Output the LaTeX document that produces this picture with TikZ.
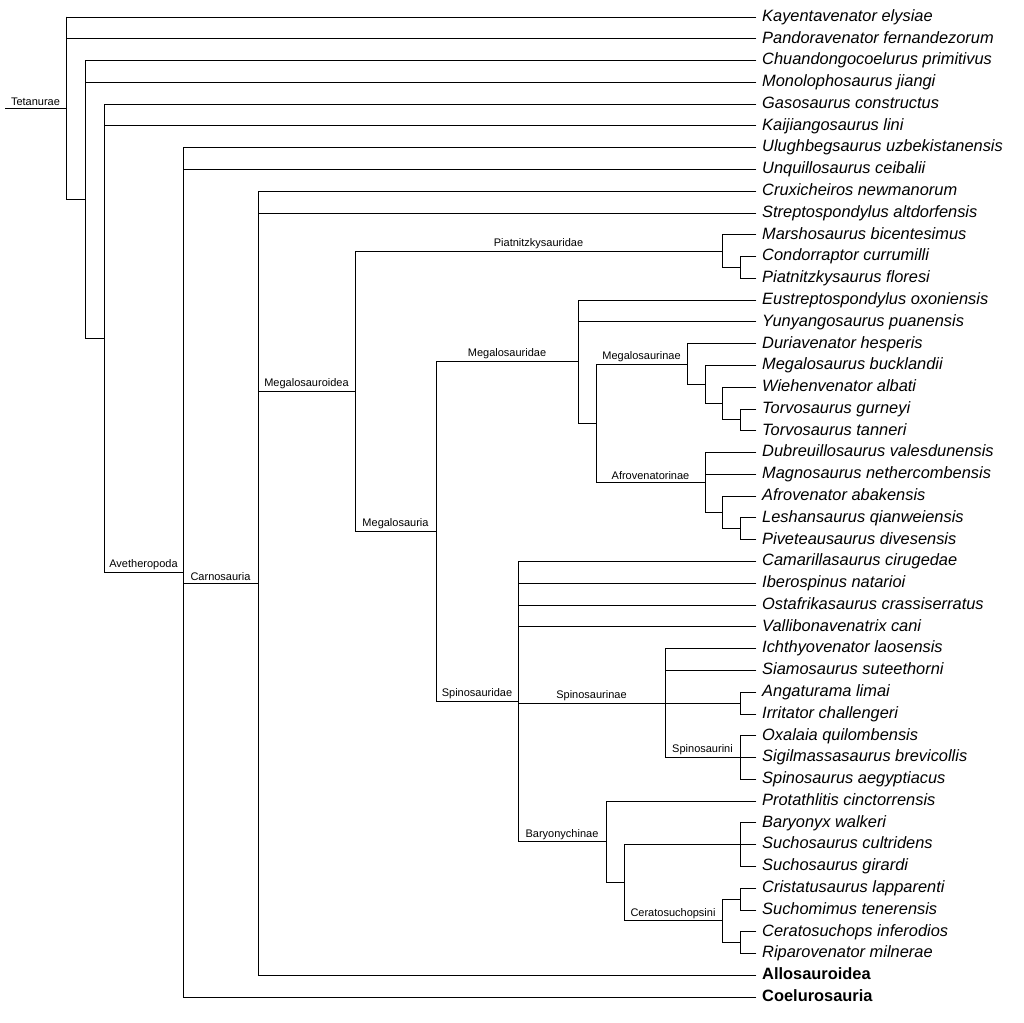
\documentclass[tikz,border=0pt]{standalone}
\usepackage{fontspec}
\setmainfont{Liberation Sans}
\begin{document}
\begin{tikzpicture}[x=1pt,y=-1pt,
  leaf/.style={anchor=west,inner xsep=6pt,inner ysep=0pt,text height=11.8pt,text depth=3.2pt,font=\fontsize{16.4}{16}\selectfont\itshape},
  bleaf/.style={leaf,font=\fontsize{16.4}{16}\selectfont\bfseries},
  br/.style={line width=0.9pt,line cap=rect},
  lab/.style={midway,above,inner sep=2pt,font=\fontsize{11}{11}\selectfont}]
\useasboundingbox (0,0) rectangle (1024,1022);
\foreach \i/\t in {1/Kayentavenator elysiae,2/Pandoravenator fernandezorum,3/Chuandongocoelurus primitivus,4/Monolophosaurus jiangi,5/Gasosaurus constructus,6/Kaijiangosaurus lini,7/Ulughbegsaurus uzbekistanensis,8/Unquillosaurus ceibalii,9/Cruxicheiros newmanorum,10/Streptospondylus altdorfensis,11/Marshosaurus bicentesimus,12/Condorraptor currumilli,13/Piatnitzkysaurus floresi,14/Eustreptospondylus oxoniensis,15/Yunyangosaurus puanensis,16/Duriavenator hesperis,17/Megalosaurus bucklandii,18/Wiehenvenator albati,19/Torvosaurus gurneyi,20/Torvosaurus tanneri,21/Dubreuillosaurus valesdunensis,22/Magnosaurus nethercombensis,23/Afrovenator abakensis,24/Leshansaurus qianweiensis,25/Piveteausaurus divesensis,26/Camarillasaurus cirugedae,27/Iberospinus natarioi,28/Ostafrikasaurus crassiserratus,29/Vallibonavenatrix cani,30/Ichthyovenator laosensis,31/Siamosaurus suteethorni,32/Angaturama limai,33/Irritator challengeri,34/Oxalaia quilombensis,35/Sigilmassasaurus brevicollis,36/Spinosaurus aegyptiacus,37/Protathlitis cinctorrensis,38/Baryonyx walkeri,39/Suchosaurus cultridens,40/Suchosaurus girardi,41/Cristatusaurus lapparenti,42/Suchomimus tenerensis,43/Ceratosuchops inferodios,44/Riparovenator milnerae}
  \node[leaf] (l\i) at (756,{17+(\i-1)*21.78}) {\t};
\node[bleaf] (l45) at (756,975.32) {Allosauroidea};
\node[bleaf] (l46) at (756,997.1) {Coelurosauria};
% internal nodes
\coordinate (root) at (66,108.2);
\coordinate (stem) at (5,108.2);
\coordinate (n85) at (85,199.4);
\coordinate (n104) at (104,338.26);
\coordinate (ave) at (183,572.4);
\coordinate (car) at (258,583.28);
\coordinate (mgd) at (355,391.4);
\coordinate (pia) at (722,251.1);
\coordinate (pia2) at (740,267.47);
\coordinate (mgs) at (436,531.7);
\coordinate (mgl) at (578,361.7);
\coordinate (ma) at (596,423.3);
\coordinate (mgn) at (687,364.12);
\coordinate (m2) at (705,384.54);
\coordinate (wi) at (722,403.6);
\coordinate (tv) at (740,419.93);
\coordinate (afr) at (705,482.55);
\coordinate (af2) at (722,512.5);
\coordinate (les) at (740,528.83);
\coordinate (spd) at (518,701.71);
\coordinate (spn) at (665,703.07);
\coordinate (ang) at (740,703.07);
\coordinate (spi) at (740,757.52);
\coordinate (bar) at (606,841.92);
\coordinate (cs) at (624,882.76);
\coordinate (suc) at (740,844.64);
\coordinate (cer) at (722,920.87);
\coordinate (cri) at (740,899.09);
\coordinate (ce2) at (740,942.65);
\newcommand{\clade}[3]{%
  \draw[br] (#1|-#2) -- (#1|-#3);}
\newcommand{\kid}[2]{\draw[br] (#1|-#2) -- (#2);}
% root
\draw[br] (stem) -- node[lab]{Tetanurae} (root);
\clade{root}{l1.west}{n85}
\kid{root}{l1.west}\kid{root}{l2.west}\kid{root}{n85}
\clade{n85}{l3.west}{n104}
\kid{n85}{l3.west}\kid{n85}{l4.west}\kid{n85}{n104}
\clade{n104}{l5.west}{ave}
\kid{n104}{l5.west}\kid{n104}{l6.west}
\draw[br] (n104|-ave) -- node[lab]{Avetheropoda} (ave);
\clade{ave}{l7.west}{l46.west}
\kid{ave}{l7.west}\kid{ave}{l8.west}\kid{ave}{l46.west}
\draw[br] (ave|-car) -- node[lab]{Carnosauria} (car);
\clade{car}{l9.west}{l45.west}
\kid{car}{l9.west}\kid{car}{l10.west}\kid{car}{l45.west}
\draw[br] (car|-mgd) -- node[lab]{Megalosauroidea} (mgd);
\clade{mgd}{pia}{mgs}
\draw[br] (mgd|-pia) -- node[lab]{Piatnitzkysauridae} (pia);
\clade{pia}{l11.west}{pia2}
\kid{pia}{l11.west}\kid{pia}{pia2}
\clade{pia2}{l12.west}{l13.west}
\kid{pia2}{l12.west}\kid{pia2}{l13.west}
\draw[br] (mgd|-mgs) -- node[lab]{Megalosauria} (mgs);
\clade{mgs}{mgl}{spd}
\draw[br] (mgs|-mgl) -- node[lab]{Megalosauridae} (mgl);
\clade{mgl}{l14.west}{ma}
\kid{mgl}{l14.west}\kid{mgl}{l15.west}\kid{mgl}{ma}
\clade{ma}{mgn}{afr}
\draw[br] (ma|-mgn) -- node[lab]{Megalosaurinae} (mgn);
\clade{mgn}{l16.west}{m2}
\kid{mgn}{l16.west}\kid{mgn}{m2}
\clade{m2}{l17.west}{wi}
\kid{m2}{l17.west}\kid{m2}{wi}
\clade{wi}{l18.west}{tv}
\kid{wi}{l18.west}\kid{wi}{tv}
\clade{tv}{l19.west}{l20.west}
\kid{tv}{l19.west}\kid{tv}{l20.west}
\draw[br] (ma|-afr) -- node[lab]{Afrovenatorinae} (afr);
\clade{afr}{l21.west}{af2}
\kid{afr}{l21.west}\kid{afr}{l22.west}\kid{afr}{af2}
\clade{af2}{l23.west}{les}
\kid{af2}{l23.west}\kid{af2}{les}
\clade{les}{l24.west}{l25.west}
\kid{les}{l24.west}\kid{les}{l25.west}
\draw[br] (mgs|-spd) -- node[lab]{Spinosauridae} (spd);
\clade{spd}{l26.west}{bar}
\kid{spd}{l26.west}\kid{spd}{l27.west}\kid{spd}{l28.west}\kid{spd}{l29.west}
\draw[br] (spd|-spn) -- node[lab]{Spinosaurinae} (spn);
\clade{spn}{l30.west}{spi}
\kid{spn}{l30.west}\kid{spn}{l31.west}\kid{spn}{ang}
\draw[br] (spn|-spi) -- node[lab]{Spinosaurini} (spi);
\clade{ang}{l32.west}{l33.west}
\kid{ang}{l32.west}\kid{ang}{l33.west}
\clade{spi}{l34.west}{l36.west}
\kid{spi}{l34.west}\kid{spi}{l35.west}\kid{spi}{l36.west}
\draw[br] (spd|-bar) -- node[lab]{Baryonychinae} (bar);
\clade{bar}{l37.west}{cs}
\kid{bar}{l37.west}\kid{bar}{cs}
\clade{cs}{suc}{cer}
\kid{cs}{suc}
\draw[br] (cs|-cer) -- node[lab]{Ceratosuchopsini} (cer);
\clade{suc}{l38.west}{l40.west}
\kid{suc}{l38.west}\kid{suc}{l39.west}\kid{suc}{l40.west}
\clade{cer}{cri}{ce2}
\kid{cer}{cri}\kid{cer}{ce2}
\clade{cri}{l41.west}{l42.west}
\kid{cri}{l41.west}\kid{cri}{l42.west}
\clade{ce2}{l43.west}{l44.west}
\kid{ce2}{l43.west}\kid{ce2}{l44.west}
\end{tikzpicture}
\end{document}
